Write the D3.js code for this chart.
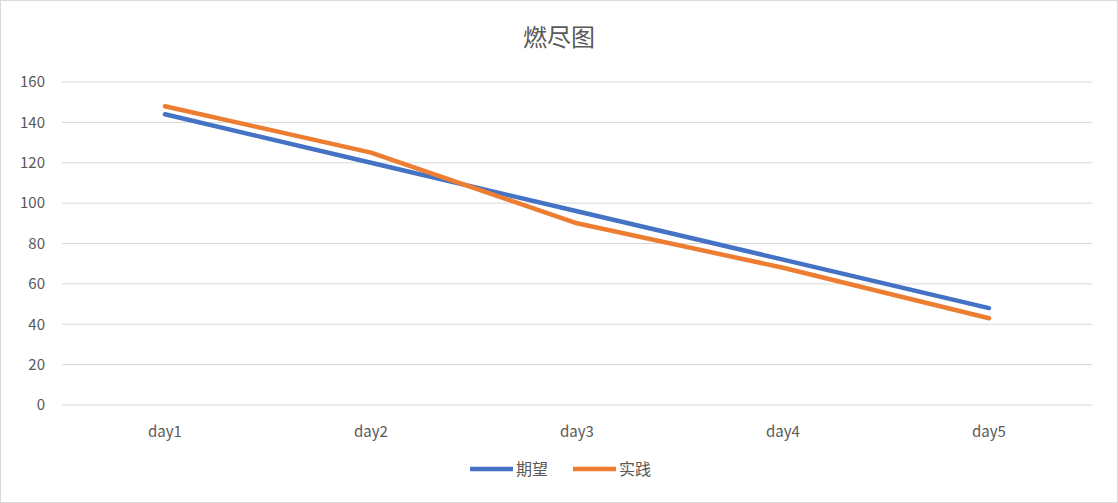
<!DOCTYPE html>
<html><head><meta charset="utf-8">
<script src="https://cdn.jsdelivr.net/npm/d3@7"></script>
<style>body{margin:0;background:#fff;font-family:"Noto Sans CJK SC","Noto Sans",sans-serif}</style>
</head><body><svg id="c" width="1118" height="503"></svg>
<script>
const categories=["day1","day2","day3","day4","day5"];
const expected=[144,120,96,72,48];
const actual=[148,125,90,68,43];
const yTicks=[0,20,40,60,80,100,120,140,160];
const seriesNames=["期望","实践"];
const colors=["#4472C4","#ED7D31"];

const svg=d3.select("#c");
svg.append("rect").attr("x",0.5).attr("y",0.5).attr("width",1117).attr("height",502).attr("fill","#fff").attr("stroke","#d9d9d9");
const x=d3.scaleBand().domain(categories).range([62,1092]);
const y=d3.scaleLinear().domain([0,160]).range([405,82]);
const g=svg.append("g");
yTicks.forEach(t=>{
  g.append("line").attr("x1",62).attr("x2",1092).attr("y1",y(t)).attr("y2",y(t)).attr("stroke","#d9d9d9").attr("stroke-width",1);
  g.append("text").attr("x",45).attr("y",y(t)).attr("dy","0.35em").attr("text-anchor","end").attr("font-size",15).attr("fill","#595959").text(t);
});
categories.forEach(c=>{
  g.append("text").attr("x",x(c)+x.bandwidth()/2).attr("y",437).attr("text-anchor","middle").attr("font-size",15).attr("fill","#595959").text(c);
});
const line=d3.line().x((d,i)=>x(categories[i])+x.bandwidth()/2).y(d=>y(d));
[expected,actual].forEach((s,i)=>{
  g.append("path").attr("d",line(s)).attr("fill","none").attr("stroke",colors[i]).attr("stroke-width",4.5).attr("stroke-linejoin","round").attr("stroke-linecap","round");
});
svg.append("text").attr("x",559).attr("y",46).attr("text-anchor","middle").attr("font-size",24).attr("fill","#595959").text("燃尽图");
const lx=[470,573];
seriesNames.forEach((n,i)=>{
  svg.append("line").attr("x1",lx[i]).attr("x2",lx[i]+43).attr("y1",469).attr("y2",469).attr("stroke",colors[i]).attr("stroke-width",4.5);
  svg.append("text").attr("x",lx[i]+46).attr("y",469).attr("dy","0.35em").attr("font-size",16).attr("fill","#595959").text(n);
});
</script></body></html>
